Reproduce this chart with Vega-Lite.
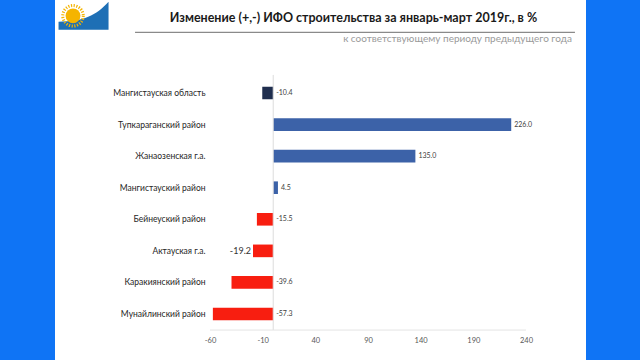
{
  "$schema": "https://vega.github.io/schema/vega-lite/v6.json",
  "width": 531,
  "height": 360,
  "autosize": {"type": "none"},
  "padding": {"left": 55, "right": 54, "top": 0, "bottom": 0},
  "background": "#0F74F5",
  "config": {
    "view": {"fill": "white", "stroke": null},
    "font": "Lato",
    "locale": {"number": {"decimal": ".", "thousands": ",", "grouping": [3], "currency": ["$", ""], "minus": "-"}}
  },
  "title": {
    "text": "Изменение (+,-) ИФО строительства за январь-март 2019г., в %",
    "anchor": "middle",
    "frame": "group",
    "baseline": "alphabetic",
    "offset": -35,
    "dx": 33,
    "fontSize": 12.5,
    "fontWeight": "bold",
    "color": "#1a1a1a",
    "font": "Lato"
  },
  "data": {
    "values": [
      {"name": "Мангистауская область", "value": -10.4},
      {"name": "Тупкараганский район", "value": 226.0},
      {"name": "Жанаозенская г.а.", "value": 135.0},
      {"name": "Мангистауский район", "value": 4.5},
      {"name": "Бейнеуский район", "value": -15.5},
      {"name": "Актауская г.а.", "value": -19.2},
      {"name": "Каракиянский район", "value": -39.6},
      {"name": "Мунайлинский район", "value": -57.3}
    ]
  },
  "layer": [
    {
      "mark": {"type": "bar"},
      "encoding": {
        "y": {
          "field": "name",
          "type": "nominal",
          "scale": {
            "domain": ["Мангистауская область", "Тупкараганский район", "Жанаозенская г.а.", "Мангистауский район", "Бейнеуский район", "Актауская г.а.", "Каракиянский район", "Мунайлинский район"],
            "range": [77.2, 329.8],
            "paddingInner": 0.6,
            "paddingOuter": 0.3,
            "align": 0.5
          },
          "axis": {
            "title": null,
            "orient": "left",
            "offset": -152,
            "ticks": false,
            "domain": false,
            "grid": false,
            "labelPadding": 2,
            "labelFontSize": 8.5,
            "labelColor": "#262626",
            "labelFont": "Lato",
            "labelLimit": 200
          }
        },
        "x": {
          "field": "value",
          "type": "quantitative",
          "scale": {"domain": [-207.2, 297], "nice": false, "zero": false},
          "axis": {
            "title": null,
            "values": [-60, -10, 40, 90, 140, 190, 240],
            "format": "d",
            "offset": -26,
            "ticks": false,
            "domain": false,
            "grid": false,
            "labelPadding": 2,
            "labelFontSize": 7.5,
            "labelColor": "#595959",
            "labelFont": "Lato"
          }
        },
        "color": {
          "condition": [
            {"test": "datum.name === 'Мангистауская область'", "value": "#1F2E4E"},
            {"test": "datum.value < 0", "value": "#F81E10"}
          ],
          "value": "#3C62A8"
        }
      }
    },
    {
      "data": {"values": [{}]},
      "mark": {"type": "rule", "color": "#dcdcdc", "strokeWidth": 1},
      "encoding": {
        "x": {"datum": 0, "type": "quantitative", "title": null},
        "y": {"datum": "Мангистауская область", "type": "nominal", "bandPosition": -0.93, "title": null},
        "y2": {"datum": "Мунайлинский район", "bandPosition": 1.77}
      }
    },
    {
      "data": {"values": [{}]},
      "mark": {"type": "rule", "color": "#e4e4e4", "strokeWidth": 1},
      "encoding": {
        "x": {"datum": -60, "type": "quantitative", "title": null},
        "x2": {"datum": 240},
        "y": {"datum": "Мунайлинский район", "type": "nominal", "bandPosition": 1.77, "title": null}
      }
    },
    {
      "transform": [{"filter": "datum.value >= 0"}],
      "mark": {"type": "text", "align": "left", "dx": 3, "fontSize": 7, "color": "#404040", "font": "Lato"},
      "encoding": {
        "x": {"field": "value", "type": "quantitative", "title": null},
        "y": {"field": "name", "type": "nominal", "title": null},
        "text": {"field": "value", "type": "quantitative", "format": ".1f"}
      }
    },
    {
      "transform": [{"filter": "datum.value < 0 && datum.name !== 'Актауская г.а.'"}],
      "mark": {"type": "text", "align": "left", "dx": 3, "fontSize": 7, "color": "#404040", "font": "Lato"},
      "encoding": {
        "x": {"datum": 0, "type": "quantitative", "title": null},
        "y": {"field": "name", "type": "nominal", "title": null},
        "text": {"field": "value", "type": "quantitative", "format": ".1f"}
      }
    },
    {
      "transform": [{"filter": "datum.name === 'Актауская г.а.'"}],
      "mark": {"type": "text", "align": "right", "dx": -2, "fontSize": 9, "color": "#333333", "font": "Lato"},
      "encoding": {
        "x": {"field": "value", "type": "quantitative", "title": null},
        "y": {"field": "name", "type": "nominal", "title": null},
        "text": {"field": "value", "type": "quantitative", "format": ".1f"}
      }
    },
    {
      "data": {"values": [{}]},
      "mark": {"type": "rule", "color": "#8a8a8a", "strokeWidth": 1.3},
      "encoding": {
        "x": {"datum": -131.2, "type": "quantitative", "title": null},
        "x2": {"datum": 286.5},
        "y": {"datum": "Мангистауская область", "type": "nominal", "bandPosition": -4.3, "title": null}
      }
    },
    {
      "data": {"values": [{"label": "к соответствующему периоду предыдущего года"}]},
      "mark": {"type": "text", "align": "right", "baseline": "alphabetic", "fontSize": 10, "color": "#9a9a9a", "font": "Lato"},
      "encoding": {
        "x": {"datum": 283.6, "type": "quantitative", "title": null},
        "y": {"datum": "Мангистауская область", "type": "nominal", "bandPosition": -3.55, "title": null},
        "text": {"field": "label"}
      }
    },
    {
      "data": {"values": [{}]},
      "mark": {"type": "point", "filled": true, "fill": "#1E6FB5", "strokeWidth": 0, "opacity": 1, "size": 2500, "shape": "M-1,0.56 L1,0.56 L1,-0.56 C0.5,0.0 0.0,0.22 -1,0.24 Z"},
      "encoding": {
        "x": {"datum": -180.1, "type": "quantitative", "title": null},
        "y": {"datum": "Мангистауская область", "type": "nominal", "bandPosition": -5.61, "title": null}
      }
    },
    {
      "data": {"values": [{}]},
      "mark": {"type": "point", "filled": false, "stroke": "#F5B400", "strokeWidth": 3, "strokeDash": [1.2, 1.5], "opacity": 1, "size": 420},
      "encoding": {
        "x": {"datum": -190.1, "type": "quantitative", "title": null},
        "y": {"datum": "Мангистауская область", "type": "nominal", "bandPosition": -5.61, "title": null}
      }
    },
    {
      "data": {"values": [{}]},
      "mark": {"type": "point", "filled": true, "fill": "#F5B400", "strokeWidth": 0, "opacity": 1, "size": 220},
      "encoding": {
        "x": {"datum": -190.1, "type": "quantitative", "title": null},
        "y": {"datum": "Мангистауская область", "type": "nominal", "bandPosition": -5.61, "title": null}
      }
    }
  ]
}
